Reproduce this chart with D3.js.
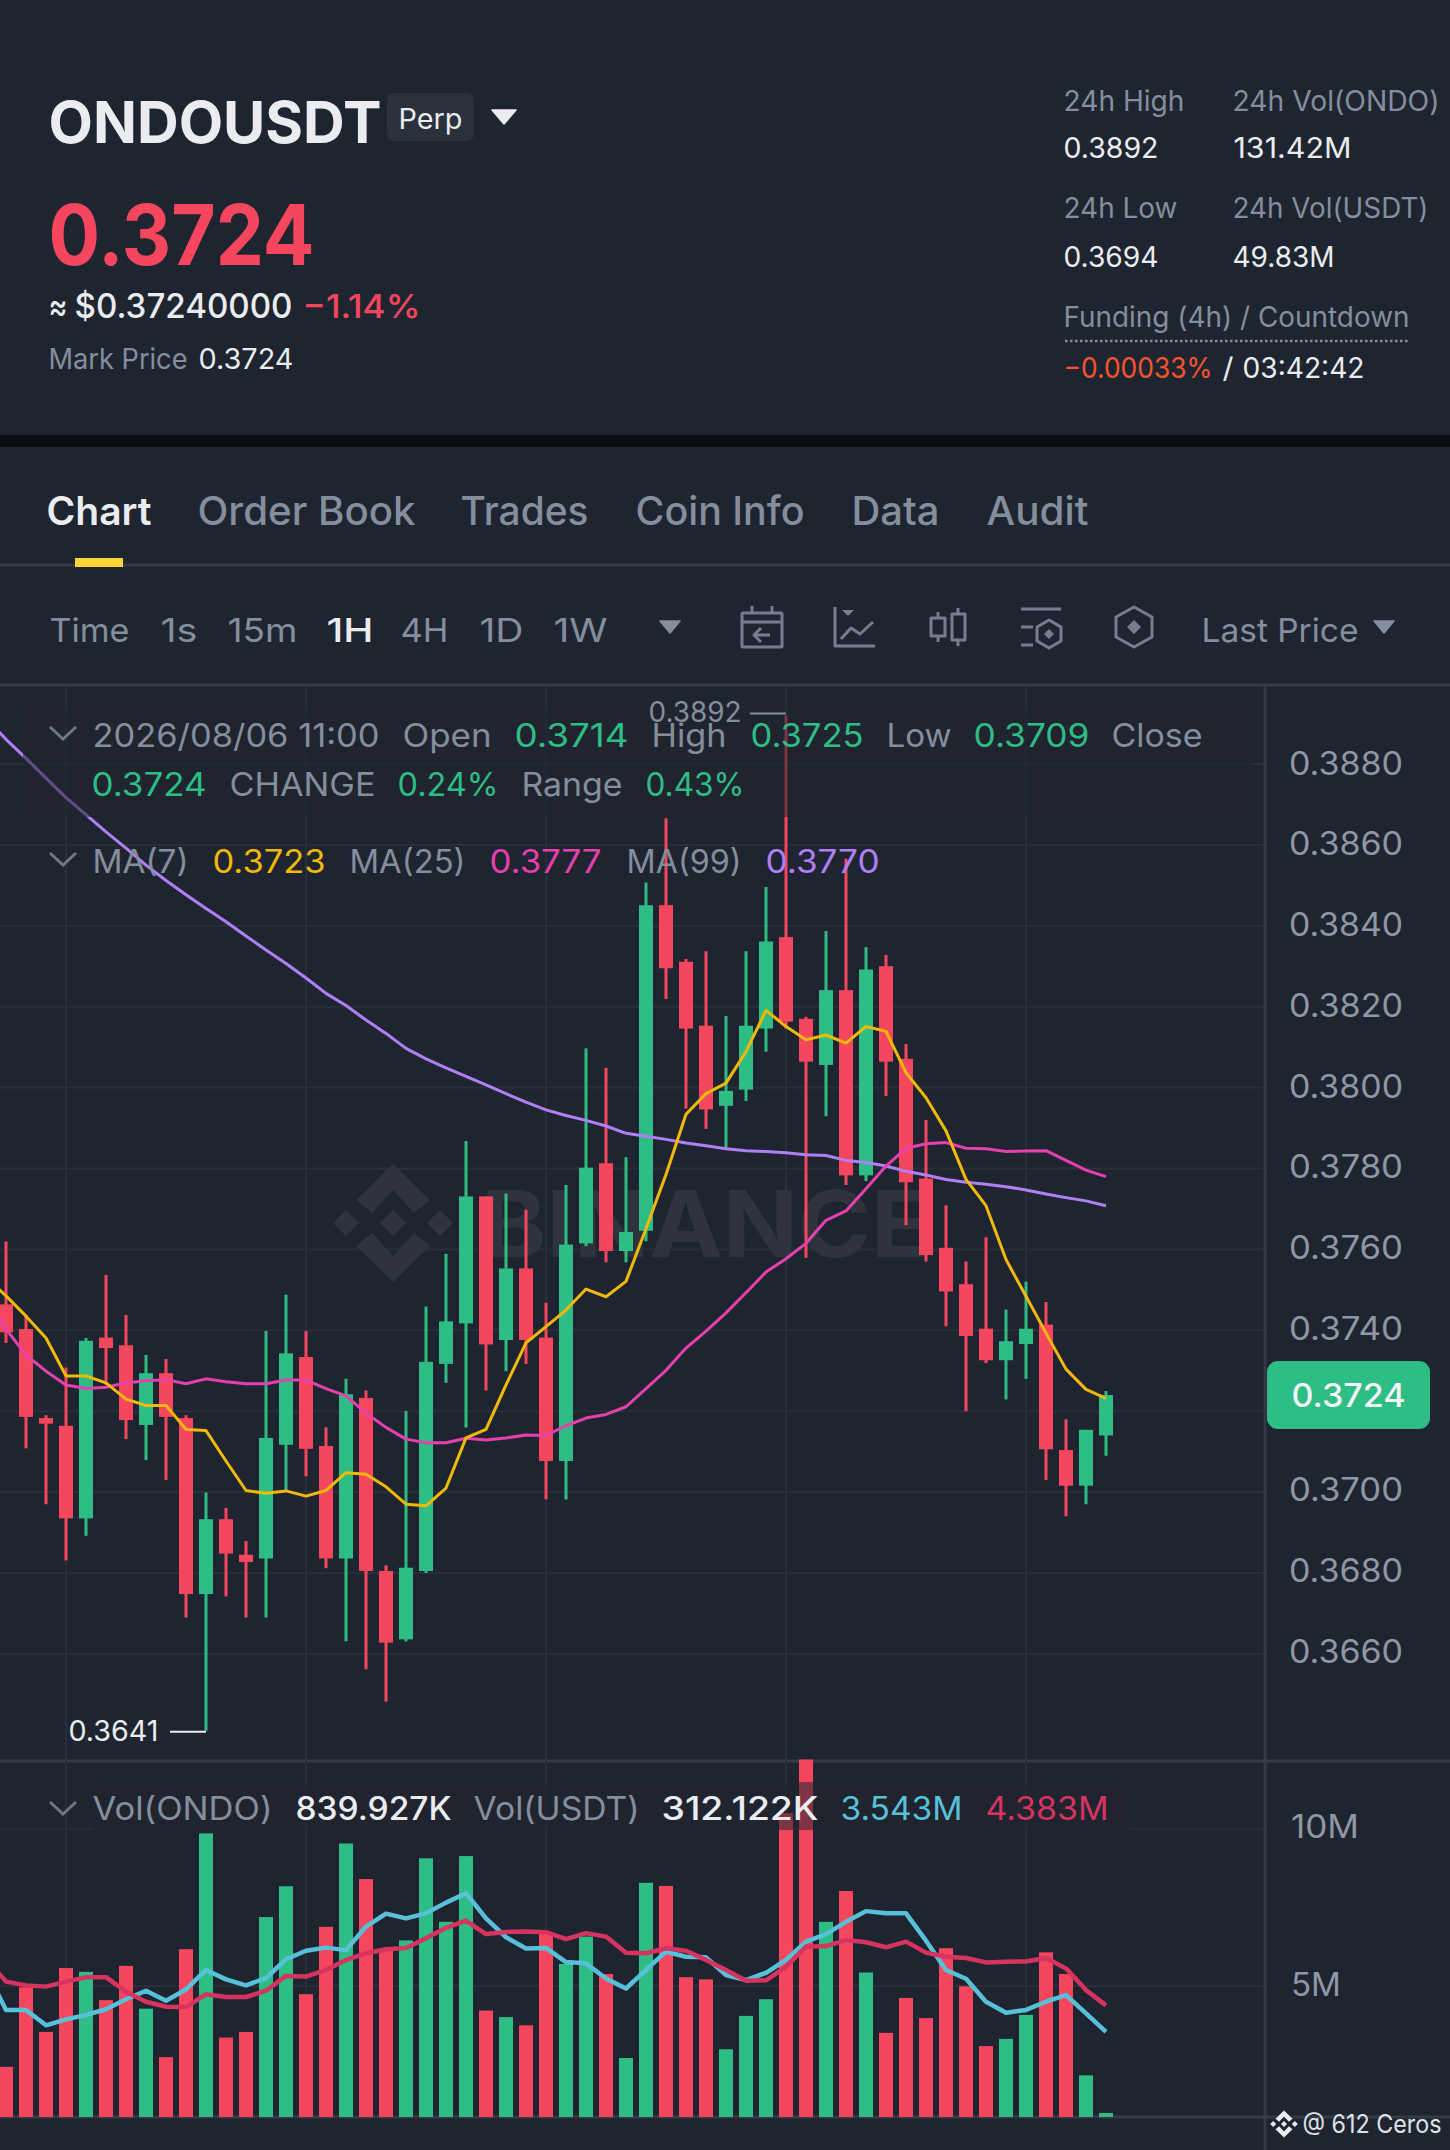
<!DOCTYPE html>
<html>
<head>
<meta charset="utf-8">
<script src="https://cdn.jsdelivr.net/npm/d3@7"></script>
<style>
html, body { margin: 0; padding: 0; background: #1f2530; }
svg { display: block; font-family: Inter, "Noto Sans", sans-serif; }
</style>
</head>
<body>
<div id="board"></div>
<script>
// candles, one per hour, oldest first
var candleOpen = [.37464,.37403,.37183,.37164,.36935,.37382,.37363,.37166,.37294,.37183,.36748,.36933,.36845,.36836,.37117,.37334,.37114,.36836,.37233,.36805,.36636,.36805,.37317,.37417,.37731,.37376,.37553,.37382,.37077,.37615,.37813,.37596,.37646,.38451,.38311,.38153,.37955,.37995,.38146,.38372,.38170,.38056,.38241,.37783,.38300,.38071,.37775,.37604,.37514,.37404,.37326,.37366,.37414,.37104,.37016,.3714];
var candleHigh = [.37620,.37438,.37190,.37308,.37381,.37537,.37438,.37339,.37329,.37190,.36999,.36961,.36879,.37398,.37488,.37398,.37160,.37280,.37251,.36819,.37200,.37459,.37589,.37868,.37731,.37738,.37698,.37468,.37759,.38097,.38049,.37828,.38507,.38666,.38318,.38337,.38177,.38337,.38496,.38920,.38175,.38387,.38566,.38347,.38328,.38108,.37920,.37709,.37570,.37630,.37451,.37520,.37470,.37180,.37154,.3725];
var candleLow = [.37369,.37108,.36970,.36831,.36892,.37265,.37131,.37079,.37030,.36690,.36410,.36742,.36690,.36690,.37001,.37039,.36812,.36631,.36562,.36482,.36631,.36800,.37270,.37160,.37251,.37299,.37317,.36982,.36982,.37608,.37568,.37568,.37620,.38219,.37948,.37898,.37849,.37967,.38089,.38146,.37579,.37929,.37759,.37769,.37979,.37660,.37570,.37410,.37200,.37319,.37229,.37280,.37030,.36940,.36970,.3709];
var candleClose = [.37395,.37186,.37169,.36935,.37374,.37356,.37178,.37294,.37186,.36748,.36933,.36848,.36827,.37134,.37343,.37107,.36836,.37242,.36805,.36628,.36813,.37322,.37422,.37731,.37365,.37553,.37376,.37077,.37612,.37802,.37596,.37643,.38451,.38295,.38146,.37946,.37992,.38153,.38361,.38163,.38064,.38241,.37783,.38292,.38064,.37766,.37586,.37496,.37386,.37326,.37373,.37404,.37106,.37016,.37154,.3724];

// moving averages, first value belongs to the candle just off the left edge
var ma7 = [.37532,.37485,.37435,.37381,.37287,.37287,.37270,.37230,.37214,.37214,.37155,.37152,.37077,.37004,.36997,.37003,.36990,.37004,.37048,.37044,.37013,.36970,.36966,.37010,.37134,.37155,.37265,.37369,.37409,.37450,.37502,.37483,.37521,.37651,.37785,.37934,.37985,.38011,.38089,.38191,.38151,.38118,.38130,.38110,.38151,.38139,.38037,.37975,.37893,.37773,.37708,.37575,.37484,.37393,.37304,.37254,.37232];
var ma25 = [.37490,.37403,.37339,.37299,.37265,.37256,.37259,.37270,.37275,.37278,.37268,.37280,.37273,.37268,.37268,.37277,.37277,.37256,.37238,.37195,.37160,.37131,.37122,.37122,.37133,.37129,.37134,.37141,.37140,.37164,.37183,.37192,.37211,.37256,.37301,.37356,.37398,.37443,.37493,.37544,.37577,.37615,.37672,.37695,.37750,.37806,.37850,.37861,.37864,.37850,.37849,.37842,.37843,.37844,.37820,.37796,.37780];
var ma99 = [.38913,.38861,.38814,.38765,.38717,.38675,.38632,.38592,.38550,.38512,.38477,.38443,.38410,.38375,.38340,.38307,.38271,.38233,.38203,.38167,.38134,.38097,.38071,.38049,.38028,.38007,.37985,.37964,.37945,.37931,.37919,.37905,.37887,.37880,.37872,.37863,.37856,.37849,.37844,.37842,.37839,.37834,.37832,.37820,.37815,.37806,.37793,.37784,.37773,.37766,.37761,.37755,.37747,.37737,.37728,.37720,.37708];

// volume in millions
var volume = [2.43,4.96,3.54,5.57,5.45,4.55,5.64,4.28,2.74,6.17,9.85,3.36,3.54,7.19,8.17,4.74,6.88,9.53,8.40,6.20,6.45,9.06,7.04,9.13,4.22,4.01,3.75,6.67,5.70,6.57,5.38,2.71,8.28,8.18,5.28,5.21,2.99,4.05,4.58,10.49,12.2,7.04,8.02,5.43,3.51,4.62,3.98,6.20,4.99,3.09,3.32,4.08,6.07,5.38,2.16,.84];
var volMaFast = [5.51,4.24,4.24,3.75,3.94,4.08,4.26,4.58,4.85,4.53,4.89,5.51,5.21,5.02,5.25,5.85,6.12,6.22,6.14,6.89,7.30,7.15,7.31,7.65,7.95,7.15,6.55,6.19,6.21,5.76,5.72,5.24,4.92,5.51,6.09,5.93,5.91,5.35,5.19,5.42,5.83,6.41,6.65,7.04,7.38,7.31,7.31,6.44,5.51,5.23,4.50,4.15,4.24,4.50,4.71,4.13,3.543];
var volMaSlow = [5.88,5.14,5.02,4.98,5.14,5.28,5.28,4.82,4.50,4.34,4.33,4.74,4.65,4.65,4.85,5.32,5.30,5.51,5.83,6.04,6.17,6.21,6.52,6.85,7.08,6.65,6.72,6.73,6.71,6.49,6.68,6.57,6.06,6.04,6.20,6.12,5.83,5.51,5.17,5.18,5.61,6.25,6.27,6.46,6.39,6.23,6.41,6.06,5.93,5.89,5.75,5.77,5.78,5.89,5.56,4.87,4.383];

var priceTicks = [.3880,.3860,.3840,.3820,.3800,.3780,.3760,.3740,.3720,.3700,.3680,.3660];
// 0.3720 has a grid line but its label is taken by the last price tag
var priceLabels = [.3880,.3860,.3840,.3820,.3800,.3780,.3760,.3740,.3700,.3680,.3660];
var volumeTicks = [10,5];
var timeTickCandles = [3,15,27,39,51];
var periods = ["Time","1s","15m","1H","4H","1D","1W"];
var tabs = ["Chart","Order Book","Trades","Coin Info","Data","Audit"];

var config = {
    width: 1450,
    height: 2150,
    bg: "#1f2530",
    grid: "#292f3a",
    divider: "#343a46",
    muted: "#848e9c",
    text: "#eaecef",
    red: "#f6465d",
    green: "#2ebd85",
    axisX: 1265,
    paneTop: 686,
    volTop: 1761,
    volBase: 2117
};

var svg = d3.select("#board")
    .append("svg")
    .attr("width", config.width)
    .attr("height", config.height);

svg.append("rect")
    .attr("width", config.width)
    .attr("height", config.height)
    .attr("fill", config.bg);

var x = d3.scaleLinear().domain([0, 55]).range([6, 1106]);
var yPrice = d3.scaleLinear().domain([.3880, .3660]).range([764, 1653.9]);
var yVol = d3.scaleLinear().domain([0, 10]).range([2143.3, 1828.7]);

// text squeezed between two x positions so it lands where the reference has it
// the spans are ink edges, so a little is added for the glyph side bearings
var label = function(text, x1, x2, baseline, size, color, weight) {
    return svg.append("text").text(text)
        .attr("x", x1 - 1.5)
        .attr("y", baseline)
        .attr("textLength", x2 - x1 + 3)
        .attr("lengthAdjust", "spacingAndGlyphs")
        .style("font-size", size + "px")
        .style("font-weight", weight || 400)
        .attr("fill", color);
};

var hline = function(x1, x2, y, color, width) {
    return svg.append("line")
        .attr("x1", x1).attr("x2", x2).attr("y1", y).attr("y2", y)
        .attr("stroke", color).attr("stroke-width", width);
};

var triangle = function(x1, x2, y1, y2, color) {
    svg.append("path")
        .attr("d", "M" + x1 + "," + y1 + "L" + x2 + "," + y1 + "L" + (x1 + x2) / 2 + "," + y2 + "Z")
        .attr("fill", color)
        .attr("stroke", color)
        .attr("stroke-width", 1.5)
        .attr("stroke-linejoin", "round");
};

var chevron = function(x1, x2, y1, y2) {
    svg.append("path")
        .attr("d", "M" + x1 + "," + y1 + "L" + (x1 + x2) / 2 + "," + y2 + "L" + x2 + "," + y1)
        .attr("fill", "none")
        .attr("stroke", "#6f7786")
        .attr("stroke-width", 3);
};

// ---- header ----
label("ONDOUSDT", 50, 380, 143, 58, config.text, 700);
svg.append("rect")
    .attr("x", 387).attr("y", 93).attr("width", 87).attr("height", 48)
    .attr("rx", 7).attr("fill", "#2b313c");
label("Perp", 400, 461, 129, 28, config.text);
triangle(492, 516, 110, 124, config.text);

label("0.3724", 50, 313, 265, 84, config.red, 700);
label("\u2248", 50, 66, 318, 34, config.text, 500);
label("$0.37240000", 76, 291, 318, 34, config.text, 500);
label("\u22121.14%", 304, 419, 318, 33, config.red, 500);
label("Mark Price", 50, 186, 369, 28, config.muted);
label("0.3724", 200, 292, 369, 28, config.text);

label("24h High", 1065, 1183, 111, 28, config.muted);
label("24h Vol(ONDO)", 1234, 1438, 111, 28, config.muted);
label("0.3892", 1065, 1157, 158, 28, config.text);
label("131.42M", 1235, 1350, 158, 28, config.text);
label("24h Low", 1065, 1176, 218, 28, config.muted);
label("24h Vol(USDT)", 1234, 1427, 218, 28, config.muted);
label("0.3694", 1065, 1157, 267, 28, config.text);
label("49.83M", 1234, 1333, 267, 28, config.text);
label("Funding (4h) / Countdown", 1065, 1408, 327, 28, config.muted);
hline(1065, 1410, 341, config.muted, 2.5).attr("stroke-dasharray", "2.5 2.5");
label("\u22120.00033%", 1065, 1211, 378, 28, "#f6542f");
label("/", 1224, 1232, 378, 28, config.text);
label("03:42:42", 1244, 1363, 378, 28, config.text);

svg.append("rect")
    .attr("x", 0).attr("y", 435).attr("width", config.width).attr("height", 12)
    .attr("fill", "#0b0e11");

// ---- tabs and toolbar ----
var tabSpans = [[48,150],[199,414],[462,587],[637,803],[853,938],[988,1087]];
tabs.forEach(function(t, i) {
    label(t, tabSpans[i][0], tabSpans[i][1], 525, 39, i === 0 ? config.text : config.muted, i === 0 ? 600 : 500);
});
hline(0, config.width, 565, config.divider, 3);
svg.append("rect")
    .attr("x", 75).attr("y", 558).attr("width", 48).attr("height", 9)
    .attr("fill", "#fcd535");

var periodSpans = [[51,128],[162,196],[229,296],[328,372],[402,447],[481,522],[555,606]];
periods.forEach(function(t, i) {
    label(t, periodSpans[i][0], periodSpans[i][1], 642, 33, t === "1H" ? config.text : config.muted, t === "1H" ? 500 : 400);
});
triangle(660, 680, 621, 633, config.muted);
label("Last Price", 1203, 1357, 642, 33, config.muted);
triangle(1374, 1394, 621, 633, config.muted);

var icons = svg.append("g")
    .attr("fill", "none")
    .attr("stroke", "#767e8d")
    .attr("stroke-width", 3)
    .attr("stroke-linejoin", "round");
// calendar
icons.append("rect").attr("x", 742).attr("y", 613).attr("width", 40).attr("height", 34).attr("rx", 1);
icons.append("path").attr("d", "M742,622H782M752,606V613M772,606V613M770,635H754M761,628L754,635L761,642");
// indicator chart
icons.append("path").attr("d", "M835,607V646H875M841,639L851,628L860,634L873,622");
icons.append("path").attr("d", "M842,610H854L848,616Z").attr("fill", "#767e8d").attr("stroke", "none");
// candles
icons.append("path").attr("d", "M931,618H945V636H931ZM938,612V618M938,636V642M952,614H965V640H952ZM958,608V614M958,640V646");
// settings
icons.append("path").attr("d", "M1021,609H1061M1021,627H1033M1021,645H1033M1049,620L1061,627V641L1049,648L1037,641V627Z");
icons.append("path").attr("d", "M1049,629L1054,634L1049,639L1044,634Z").attr("fill", "#767e8d").attr("stroke", "none");
// depth
icons.append("path").attr("d", "M1134,607L1152,617V637L1134,647L1116,637V617Z");
icons.append("path").attr("d", "M1134,620L1141,627L1134,634L1127,627Z").attr("fill", "#767e8d").attr("stroke", "none");

hline(0, config.width, config.paneTop - 1, config.divider, 3);
hline(0, config.width, config.volTop, config.divider, 3);
hline(0, config.width, config.volBase, config.divider, 3);
svg.append("line")
    .attr("x1", config.axisX).attr("x2", config.axisX)
    .attr("y1", config.paneTop).attr("y2", config.height)
    .attr("stroke", config.divider).attr("stroke-width", 3);

// ---- grid ----
var grid = svg.append("g").attr("stroke", config.grid).attr("stroke-width", 2);
grid.selectAll("line.price").data(priceTicks).enter().append("line")
    .attr("class", "price")
    .attr("x1", 0).attr("x2", config.axisX)
    .attr("y1", yPrice).attr("y2", yPrice);
grid.selectAll("line.volume").data(volumeTicks).enter().append("line")
    .attr("class", "volume")
    .attr("x1", 0).attr("x2", config.axisX)
    .attr("y1", yVol).attr("y2", yVol);
grid.selectAll("line.time").data(timeTickCandles).enter().append("line")
    .attr("class", "time")
    .attr("x1", x).attr("x2", x)
    .attr("y1", config.paneTop).attr("y2", config.volBase);

// ---- BINANCE watermark ----
var binanceMark = function(g) {
    g.append("path").attr("d", "M0,-59L37,-23L21,-10L0,-33L-21,-10L-37,-23Z");
    g.append("path").attr("d", "M0,59L37,23L21,10L0,33L-21,10L-37,23Z");
    g.append("path").attr("d", "M0,-13L13,0L0,13L-13,0Z");
    g.append("path").attr("d", "M-47,-13L-34,0L-47,13L-60,0Z");
    g.append("path").attr("d", "M47,-13L60,0L47,13L34,0Z");
};
var watermark = svg.append("g").attr("fill", "#2e333e");
binanceMark(watermark.append("g").attr("transform", "translate(393,1223)"));
watermark.append("text").text("BINANCE")
    .attr("x", 481).attr("y", 1257)
    .attr("textLength", 450)
    .attr("lengthAdjust", "spacingAndGlyphs")
    .style("font-size", "92px")
    .style("font-weight", 700);

// ---- candles ----
var candles = d3.range(candleOpen.length).map(function(i) {
    return {
        i: i,
        open: candleOpen[i],
        high: candleHigh[i],
        low: candleLow[i],
        close: candleClose[i],
        volume: volume[i],
        color: candleClose[i] >= candleOpen[i] ? config.green : config.red
    };
});

var candleGroup = svg.append("g");
candleGroup.selectAll("line").data(candles).enter().append("line")
    .attr("x1", function(d) { return x(d.i); })
    .attr("x2", function(d) { return x(d.i); })
    .attr("y1", function(d) { return yPrice(d.high); })
    .attr("y2", function(d) { return yPrice(d.low); })
    .attr("stroke", function(d) { return d.color; })
    .attr("stroke-width", 3);
candleGroup.selectAll("rect").data(candles).enter().append("rect")
    .attr("x", function(d) { return x(d.i) - 7; })
    .attr("width", 14)
    .attr("y", function(d) { return yPrice(Math.max(d.open, d.close)); })
    .attr("height", function(d) { return Math.max(2, Math.abs(yPrice(d.open) - yPrice(d.close))); })
    .attr("fill", function(d) { return d.color; });

var drawLine = function(values, scale, color, width) {
    var line = d3.line()
        .x(function(d, i) { return x(i - 1); })
        .y(function(d) { return scale(d); });
    svg.append("path")
        .attr("d", line(values))
        .attr("fill", "none")
        .attr("stroke", color)
        .attr("stroke-width", width)
        .attr("stroke-linejoin", "round");
};

drawLine(ma99, yPrice, "#b07ff5", 3);
drawLine(ma25, yPrice, "#e63fae", 3);
drawLine(ma7, yPrice, "#f0b90b", 3);

// ---- volume ----
// the smallest bar still shows a few pixels above the pane floor
var volumeBarHeight = function(d) {
    return Math.max(4, config.volBase - yVol(d.volume));
};
svg.append("g").selectAll("rect").data(candles).enter().append("rect")
    .attr("x", function(d) { return x(d.i) - 7; })
    .attr("width", 14)
    .attr("y", function(d) { return config.volBase - volumeBarHeight(d); })
    .attr("height", volumeBarHeight)
    .attr("fill", function(d) { return d.color; });

drawLine(volMaFast, yVol, "#58c1da", 4.5);
drawLine(volMaSlow, yVol, "#d6335f", 4.5);

// the legends sit on a half transparent panel that dims what is below them
svg.append("rect")
    .attr("x", 23).attr("y", 705).attr("width", 1230).attr("height", 112)
    .attr("fill", config.bg).attr("opacity", .55);
svg.append("rect")
    .attr("x", 92).attr("y", 1782).attr("width", 1039).attr("height", 48)
    .attr("fill", config.bg).attr("opacity", .55);

// ---- axes ----
var priceAxis = svg.append("g")
    .attr("transform", "translate(" + config.axisX + ",0)")
    .call(d3.axisRight(yPrice).tickValues(priceLabels).tickFormat(d3.format(".4f")).tickSize(0).tickPadding(24));
priceAxis.select(".domain").remove();
// labels creep up against the grid lines towards the bottom of the pane
priceAxis.selectAll("text")
    .attr("dy", function(d) { return 10 - (.3880 - d) / .002 * .15; })
    .attr("textLength", 114)
    .attr("lengthAdjust", "spacingAndGlyphs")
    .attr("fill", "#8f97a4")
    .style("font-size", "32px")
    .style("font-family", "Inter");

var volumeAxis = svg.append("g")
    .attr("transform", "translate(" + config.axisX + ",0)")
    .call(d3.axisRight(yVol).tickValues(volumeTicks).tickFormat(function(d) { return d + "M"; }).tickSize(0).tickPadding(26));
volumeAxis.select(".domain").remove();
volumeAxis.selectAll("text")
    .attr("dy", 9)
    .attr("textLength", function(d) { return d === 10 ? 68 : 50; })
    .attr("lengthAdjust", "spacingAndGlyphs")
    .attr("fill", "#8f97a4")
    .style("font-size", "32px")
    .style("font-family", "Inter");

// ---- legends ----
chevron(50, 76, 727, 739);
label("2026/08/06 11:00", 94, 378, 747, 32, config.muted);
label("Open", 404, 490, 747, 32, config.muted);
label("0.3714", 516, 627, 747, 32, config.green);
label("High", 653, 725, 747, 32, config.muted);
label("0.3725", 752, 862, 747, 32, config.green);
label("Low", 888, 950, 747, 32, config.muted);
label("0.3709", 975, 1088, 747, 32, config.green);
label("Close", 1113, 1201, 747, 32, config.muted);
label("0.3724", 93, 205, 796, 32, config.green);
label("CHANGE", 231, 374, 796, 32, config.muted);
label("0.24%", 399, 497, 796, 32, config.green);
label("Range", 523, 621, 796, 32, config.muted);
label("0.43%", 647, 743, 796, 32, config.green);

chevron(50, 76, 853, 865);
label("MA(7)", 94, 187, 873, 32, config.muted);
label("0.3723", 214, 324, 873, 32, "#f0b90b");
label("MA(25)", 351, 464, 873, 32, config.muted);
label("0.3777", 491, 600, 873, 32, "#e63fae");
label("MA(99)", 628, 740, 873, 32, config.muted);
label("0.3770", 767, 878, 873, 32, "#b07ff5");

chevron(50, 76, 1802, 1814);
label("Vol(ONDO)", 94, 271, 1820, 32, config.muted);
label("839.927K", 297, 450, 1820, 32, config.text, 500);
label("Vol(USDT)", 475, 638, 1820, 32, config.muted);
label("312.122K", 663, 817, 1820, 32, config.text, 500);
label("3.543M", 842, 961, 1820, 32, "#58c1da");
label("4.383M", 987, 1107, 1820, 32, "#d6335f");

// high and low of the visible range
label("0.3892", 650, 740, 722, 28, config.muted);
hline(750, x(39), yPrice(.3892) - 2, config.muted, 2);
label("0.3641", 70, 157, 1741, 28, config.text);
hline(170, x(10), yPrice(.3641) + 1, config.text, 2);

// ---- last price tag ----
svg.append("rect")
    .attr("x", 1267).attr("y", 1361).attr("width", 163).attr("height", 68)
    .attr("rx", 11).attr("fill", config.green);
label("0.3724", 1293, 1404, 1407, 32, "#f3f5f7", 500);

// ---- bottom credit ----
var credit = svg.append("g")
    .attr("fill", config.text)
    .attr("transform", "translate(1284,2124) scale(.23)");
binanceMark(credit);
label("@ 612 Ceros", 1304, 1440, 2133, 25, "#dfe2e6");
</script>
</body>
</html>
